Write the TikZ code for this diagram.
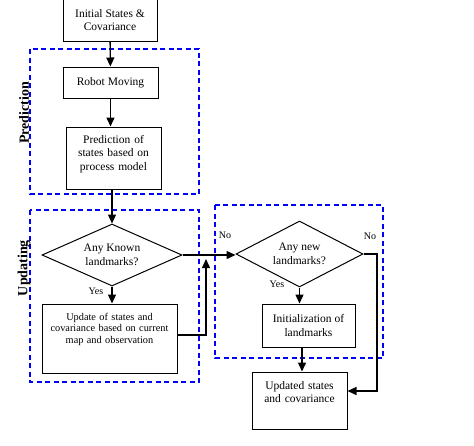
\documentclass[tikz,border=0pt]{standalone}
\usepackage{fontspec}
\setmainfont{Liberation Serif}
\usetikzlibrary{shapes.geometric,arrows.meta}
\tikzset{every node/.style={font=\fontsize{11.5}{13.5}\selectfont},
        stepbox/.style={draw,line width=1pt,align=center,inner sep=4pt},
        askbox/.style={draw,diamond,line width=1pt,align=center,inner sep=0pt,aspect=2},
        group/.style={draw=blue,dash pattern=on 5pt off 3.5pt,line width=1.3pt},
        flow/.style={line width=1.4pt,-{Triangle[length=9pt,width=8pt]}},
        tag/.style={font=\fontsize{10}{12}\selectfont},
        phase/.style={font=\fontsize{14}{16}\selectfont\bfseries,rotate=90},
        }
\begin{document}
\begin{tikzpicture}[x=1pt,y=-1pt]
    \useasboundingbox (0,0) rectangle (474,445);

    % phases
    \draw[group] (30,49) rectangle (199,194);
    \draw[group] (30,210) rectangle (199,382);
    \draw[group] (215,205) rectangle (383,358);
    \node[phase] (predlabel) at (24,113) {Prediction};
    \node[phase] (updlabel) at (24,268) {Updating};

    \node[stepbox,minimum width=94pt,minimum height=42pt] (init) at (110,20) {Initial States \&\\Covariance};
    \node[stepbox,minimum width=95pt,minimum height=31pt] (robot) at (110.5,82.5) {Robot Moving};
    \node[stepbox,text width=87pt,text height=12pt,text depth=42pt] (predict) at (113.5,158) {Prediction of\\states based on\\process model};
    \node[askbox,minimum width=140pt,minimum height=62pt] (known) at (112,255) {Any Known\\landmarks?};
    \node[stepbox,text width=127pt,text height=12pt,text depth=49pt,
          font=\fontsize{10.3}{11.5}\selectfont] (update) at (109.5,338.5)
          {Update of states and\\covariance based on current\\map and observation};
    \node[askbox,minimum width=127pt,minimum height=66pt] (new) at (299.5,254) {Any new\\landmarks?};
    \node[stepbox,minimum width=93pt,minimum height=43pt] (initl) at (308.5,325.5) {Initialization of\\landmarks};
    \node[stepbox,text width=87pt,text height=13pt,text depth=36pt] (updated) at (299.5,400.5) {Updated states\\and covariance};

    \node[tag] (yes1) at (96,291) {Yes};
    \node[tag] (yes2) at (277,284) {Yes};
    \node[tag] (no1) at (225,235) {No};
    \node[tag] (no2) at (370,236) {No};

    \coordinate (join) at (206,259);
    \coordinate (bend) at (377,254);

    \draw[flow] (init) -- (robot);
    \draw[flow] (robot) -- (robot |- predict.north);
    \draw[flow] (known.north |- predict.south) -- (known.north);
    \draw[flow] (known.south) -- (known.south |- update.north);
    \draw[flow] (known.east) -- (known.east -| new.west);
    \draw[flow] ([yshift=3.5pt]update.east) -| (join);
    \draw[flow] (new.south) -- (new.south |- initl.north);
    \draw[flow] ([xshift=2.5pt]updated.north |- initl.south) -- ([xshift=2.5pt]updated.north);
    %\draw[flow] (new.east) -| (updated.east);
    \draw[flow] (new.east) -- (bend) |- ([yshift=9.5pt]updated.east);
\end{tikzpicture}
\end{document}
